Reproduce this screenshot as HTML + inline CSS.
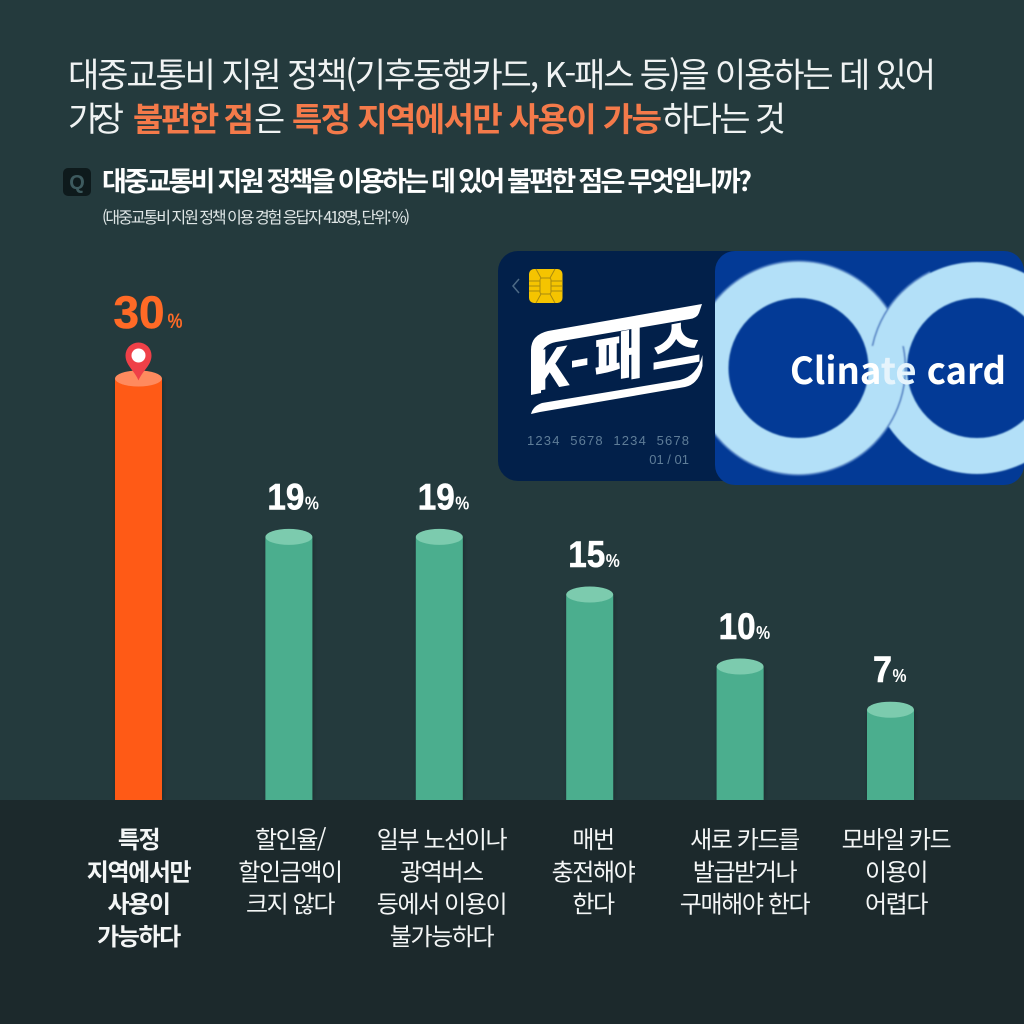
<!DOCTYPE html>
<html lang="ko">
<head>
<meta charset="utf-8">
<title>대중교통비 지원 정책 불편한 점</title>
<style>
html,body{margin:0;padding:0;background:#243a3d}
svg{display:block}
text{font-family:"Liberation Sans","Noto Sans CJK KR",sans-serif}
.kr{font-family:"Noto Sans CJK KR","Liberation Sans",sans-serif}
</style>
</head>
<body>
<svg id="chart" xmlns="http://www.w3.org/2000/svg" width="1024" height="1024" viewBox="0 0 1024 1024">
  <defs>
    <clipPath id="blue-clip"><rect x="715" y="251" width="309" height="234" rx="20"/></clipPath>
    <clipPath id="top-half"><rect x="850" y="251" width="80" height="95"/></clipPath>
    <filter id="bar-shadow" x="-30%" y="-10%" width="160%" height="120%"><feDropShadow dx="1" dy="0" stdDeviation="2.5" flood-color="#000" flood-opacity=".25"/></filter>
    <filter id="ring-glow" x="-10%" y="-10%" width="120%" height="120%"><feGaussianBlur stdDeviation="0.9"/></filter>
  </defs>
  <rect width="1024" height="1024" fill="#243a3d"/>

  <g class="kr" font-size="34" font-weight="400">
    <text class="kr" x="68" y="87" fill="#f0f3f3" textLength="868" lengthAdjust="spacing">대중교통비 지원 정책(기후동행카드, K-패스 등)을 이용하는 데 있어</text>
    <text class="kr" x="68" y="131" fill="#f0f3f3" textLength="56" lengthAdjust="spacing">가장</text>
    <text class="kr" x="133" y="131" fill="#f47a4a" font-size="33" font-weight="700" textLength="121" lengthAdjust="spacing">불편한 점</text>
    <text class="kr" x="254" y="131" fill="#f0f3f3">은</text>
    <text class="kr" x="292" y="131" fill="#f47a4a" font-size="33" font-weight="700" textLength="370" lengthAdjust="spacing">특정 지역에서만 사용이 가능</text>
    <text class="kr" x="662" y="131" fill="#f0f3f3" textLength="124" lengthAdjust="spacing">하다는 것</text>
  </g>

  <rect x="63" y="168" width="28" height="28" rx="5" fill="#0e1a1c"/>
  <text x="77" y="189" text-anchor="middle" font-size="20" font-weight="700" fill="#3d5a5e">Q</text>
  <text class="kr" x="102" y="191" font-size="27" font-weight="700" fill="#ffffff" textLength="650" lengthAdjust="spacing">대중교통비 지원 정책을 이용하는 데 있어 불편한 점은 무엇입니까?</text>
  <text class="kr" x="102" y="223" font-size="16" fill="#dfe6e6" textLength="308" lengthAdjust="spacing">(대중교통비 지원 정책 이용 경험 응답자 418명, 단위: %)</text>

  <g>
    <rect x="498" y="251" width="300" height="230" rx="20" fill="#02204a"/>
    <path d="M519,279 L513,286 L519,293" fill="none" stroke="#4d6a86" stroke-width="1.5"/>
    <g>
      <rect x="529" y="269" width="33.500" height="34" rx="5" fill="#f5c400"/>
      <path d="M529,281H540M529,286H540M529,291H540M551,281H562M551,286H562M551,291H562M536,269L541,278M555,269L550,278M536,303L541,294M555,303L550,294" stroke="#a88a10" stroke-width="1" fill="none"/>
      <rect x="540" y="278" width="11" height="16" rx="2" fill="none" stroke="#a88a10" stroke-width="1"/>
    </g>
    <path d="M702,304 L699,313 Q697,318 690,319 L556,342 Q541,345 541,358 L541,393 L531,395 L531,350 Q531,335 548,331 Z M531,414 Q533,406 542,403 L680,380 Q697,376 702.500,355 L702.500,366 Q699,384 685,387 L540,412 Z" fill="#ffffff"/>
    <text class="kr" font-size="54" font-weight="900" fill="#ffffff" transform="translate(531,392) skewY(-10)">K<tspan dx="0">-</tspan><tspan dx="4">패</tspan><tspan dx="8">스</tspan></text>
    <text x="527" y="445" font-size="13" fill="#5f7d98" xml:space="preserve" textLength="162" lengthAdjust="spacing">1234  5678  1234  5678</text>
    <text x="689" y="464" text-anchor="end" font-size="13" fill="#5f7d98">01 / 01</text>
  </g>

  <g clip-path="url(#blue-clip)">
    <rect x="715" y="251" width="309" height="234" fill="#033a96"/>
    <g filter="url(#ring-glow)">
      <circle cx="977" cy="368" r="88" fill="none" stroke="#b3e0f8" stroke-width="36"/>
      <circle cx="798.500" cy="368" r="106.500" fill="none" stroke="#4f80c4" stroke-width="2.500"/>
      <circle cx="798.500" cy="368" r="88" fill="none" stroke="#b3e0f8" stroke-width="36"/>
      <g clip-path="url(#top-half)">
        <circle cx="977" cy="368" r="106.500" fill="none" stroke="#4f80c4" stroke-width="2.500"/>
        <circle cx="977" cy="368" r="88" fill="none" stroke="#b3e0f8" stroke-width="36"/>
      </g>
    </g>
    <text class="kr" x="790" y="384" font-size="37" font-weight="700" fill="#ffffff" textLength="216" lengthAdjust="spacingAndGlyphs">Clina<tspan fill="#e6f4fc">te</tspan> card</text>
  </g>

  <g id="bars"></g>
  <rect x="0" y="800" width="1024" height="224" fill="#1c292c"/>
  <g id="labels"></g>
</svg>

<script>
var categories = [
  ["특정", "지역에서만", "사용이", "가능하다"],
  ["할인율/", "할인금액이", "크지 않다"],
  ["일부 노선이나", "광역버스", "등에서 이용이", "불가능하다"],
  ["매번", "충전해야", "한다"],
  ["새로 카드를", "발급받거나", "구매해야 한다"],
  ["모바일 카드", "이용이", "어렵다"]
];
var values = [30, 19, 19, 15, 10, 7];
var highlightIndex = 0;

var NS = "http://www.w3.org/2000/svg";
var barsLayer = document.getElementById("bars");
var labelsLayer = document.getElementById("labels");

function xScale(i) { return 138.5 + i * 150.4; }
function xLabel(i) { return 138.5 + i * 151.5; }
function yScale(v) { return 810.5 - 14.4 * v; }

function make(tag, attrs, parent) {
  var el = document.createElementNS(NS, tag);
  for (var k in attrs) { el.setAttribute(k, attrs[k]); }
  parent.appendChild(el);
  return el;
}

values.forEach(function (v, i) {
  var cx = xScale(i);
  var top = yScale(v);
  var hot = i === highlightIndex;
  var text = String(v);
  var oneDigit = text.length === 1;
  var g = make("g", {}, barsLayer);
  
  
  var body = make("rect", { x: cx - 23.5, y: top, width: 47, height: 800 - top, fill: hot ? "#ff5a14" : "#4bae8e", filter: "url(#bar-shadow)" }, g);
  
  
  var cap = make("ellipse", { cx: cx, cy: top, rx: 23.5, ry: 8, fill: hot ? "#ff8a5e" : "#7ccbae" }, g);
  
  

  var baseline = hot ? top - 50.5 : top - 27.5;
  var startX = hot ? cx - 25 : (oneDigit ? cx - 17.5 : cx - 21.5);
  var digitsWidth = hot ? 51 : (oneDigit ? 19 : 37);
  var color = hot ? "#ff6a26" : "#ffffff";
  var num = make("text", { x: startX, y: baseline, "font-size": hot ? 45 : 37, "font-weight": 700, fill: color, stroke: color, "stroke-width": 0.6, textLength: digitsWidth, lengthAdjust: "spacingAndGlyphs" }, g);
  
  
  num.textContent = text;
  var pct = make("text", { x: startX + digitsWidth + (hot ? 3 : 0.5), y: baseline, "font-size": hot ? 21 : 18, "font-weight": 700, fill: color, textLength: hot ? 15 : 14, lengthAdjust: "spacingAndGlyphs" }, g);
  
  
  pct.textContent = "%";

  if (hot) {
    var pin = make("path", { d: "M" + cx + "," + (top + 2) + " C" + (cx - 4) + "," + (top - 8) + " " + (cx - 13) + "," + (top - 13) + " " + (cx - 13) + "," + (top - 23) + " A13,13 0 1 1 " + (cx + 13) + "," + (top - 23) + " C" + (cx + 13) + "," + (top - 13) + " " + (cx + 4) + "," + (top - 8) + " " + cx + "," + (top + 2) + " Z", fill: "#ef4048" }, g);
    
    
    var dot = make("circle", { cx: cx, cy: top - 23, r: 7, fill: "#ffffff" }, g);
    
    
  }

  var label = make("text", { "text-anchor": "middle", "font-size": 24, "font-weight": hot ? 700 : 400, "letter-spacing": -1.4, fill: "#f4f6f6", "class": "kr" }, labelsLayer);
  
  
  categories[i].forEach(function (line, n) {
    var t = make("tspan", { x: xLabel(i), y: 848 + n * 32.3 }, label);
    t.textContent = line;
  });
});
</script>
</body>
</html>
